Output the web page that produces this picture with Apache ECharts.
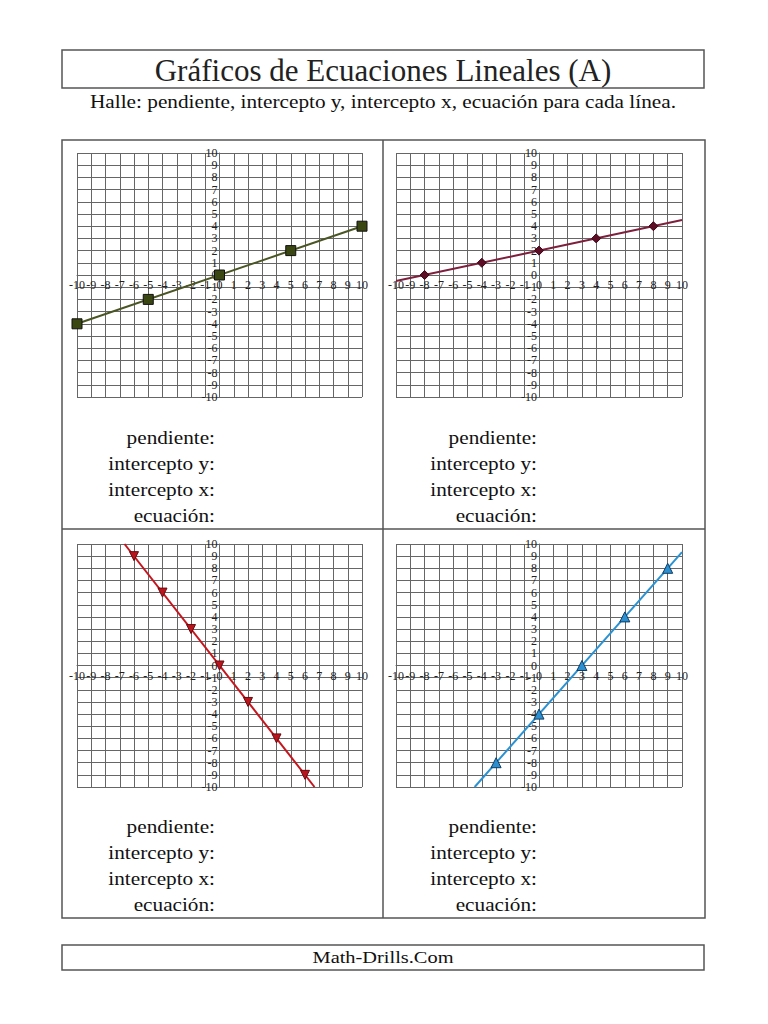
<!DOCTYPE html>
<html>
<head>
<meta charset="utf-8">
<script src="https://cdn.jsdelivr.net/npm/echarts@6/dist/echarts.min.js"></script>
<style>html,body{margin:0;padding:0;background:#fff}#c{width:768px;height:1024px}</style>
</head>
<body>
<div id="c"></div>
<script>
// ---- data ----
const titleText = 'Gráficos de Ecuaciones Lineales (A)';
const subtitleText = 'Halle: pendiente, intercepto y, intercepto x, ecuación para cada línea.';
const footerText = 'Math-Drills.Com';
const questionLabels = ['pendiente:', 'intercepto y:', 'intercepto x:', 'ecuación:'];
const axisMin = -10, axisMax = 10, axisStep = 1;

const line1 = [[-10, -4], [10, 4]];
const points1 = [[-10, -4], [-5, -2], [0, 0], [5, 2], [10, 4]];
const line2 = [[-10, -0.5], [10, 4.5]];
const points2 = [[-8, 0], [-4, 1], [0, 2], [4, 3], [8, 4]];
const line3 = [[-6.667, 10], [6.667, -10]];
const points3 = [[-6, 9], [-4, 6], [-2, 3], [0, 0], [2, -3], [4, -6], [6, -9]];
const line4 = [[-4.5, -10], [10, 9.333]];
const points4 = [[-3, -8], [0, -4], [3, 0], [6, 4], [9, 8]];

const lines = [line1, line2, line3, line4];
const pointSets = [points1, points2, points3, points4];

// ---- styles ----
const panels = [
  {left: 77, top: 153, w: 285, h: 244, lineColor: '#4a5524', fill: '#3a4712', symbol: 'rect', size: 10, rot: 0, border: '#111'},
  {left: 396, top: 153, w: 286, h: 244, lineColor: '#7d1f3d', fill: '#5e0d26', symbol: 'diamond', size: 9, rot: 0, border: '#3a0515'},
  {left: 77, top: 544, w: 285, h: 243, lineColor: '#c4161e', fill: '#b8151c', symbol: 'triangle', size: 9, rot: 180, border: '#6a0a0e'},
  {left: 396, top: 544, w: 286, h: 243, lineColor: '#2a92d2', fill: '#2c8fcf', symbol: 'triangle', size: 10, rot: 0, border: '#0f3e66'}
];
const serif = '"Liberation Serif", "DejaVu Serif", serif';
const gridColor = '#666';

const grids = [], xAxes = [], yAxes = [], series = [];
panels.forEach((p, i) => {
  grids.push({left: p.left, top: p.top, width: p.w, height: p.h});
  const common = {
    type: 'value', min: axisMin, max: axisMax, interval: axisStep,
    gridIndex: i,
    axisLine: {show: true, onZero: false, lineStyle: {color: gridColor, width: 1}},
    axisTick: {show: false},
    splitLine: {show: true, lineStyle: {color: gridColor, width: 1}},
    axisLabel: {fontFamily: serif, fontSize: 12, color: '#222', showMinLabel: true, showMaxLabel: true}
  };
  xAxes.push(Object.assign({}, common, {position: 'bottom', offset: -p.h / 2,
    axisLabel: Object.assign({}, common.axisLabel, {margin: 4})}));
  yAxes.push(Object.assign({}, common, {position: 'left', offset: -p.w / 2,
    axisLabel: Object.assign({}, common.axisLabel, {margin: 2})}));
  series.push({
    type: 'line', xAxisIndex: i, yAxisIndex: i, data: lines[i], showSymbol: false, symbol: 'none',
    lineStyle: {color: p.lineColor, width: 2}, z: 5, silent: true, animation: false
  });
  series.push({
    type: 'scatter', xAxisIndex: i, yAxisIndex: i, data: pointSets[i],
    symbol: p.symbol, symbolSize: p.size, symbolRotate: p.rot,
    itemStyle: {color: p.fill, borderColor: p.border, borderWidth: 1, opacity: 1}, z: 6, animation: false
  });
});

const border = {fill: 'none', stroke: '#555', lineWidth: 1.5};
const graphics = [
  {type: 'rect', shape: {x: 62, y: 50, width: 642, height: 38}, style: border},
  {type: 'text', x: 383, y: 70, scaleX: 0.97, style: {text: titleText, font: '32px ' + serif, fill: '#222', align: 'center', verticalAlign: 'middle'}},
  {type: 'text', x: 383, y: 101, scaleX: 1.12, style: {text: subtitleText, font: '19px ' + serif, fill: '#111', align: 'center', verticalAlign: 'middle'}},
  {type: 'rect', shape: {x: 62, y: 140, width: 643, height: 778}, style: border},
  {type: 'line', shape: {x1: 383, y1: 140, x2: 383, y2: 918}, style: {stroke: '#555', lineWidth: 1.5}},
  {type: 'line', shape: {x1: 62, y1: 529, x2: 705, y2: 529}, style: {stroke: '#555', lineWidth: 1.5}},
  {type: 'rect', shape: {x: 62, y: 945, width: 642, height: 25}, style: border},
  {type: 'text', x: 383, y: 957, scaleX: 1.2, style: {text: footerText, font: '17px ' + serif, fill: '#111', align: 'center', verticalAlign: 'middle'}}
];
const labelAnchors = [[215, 438], [537, 438], [215, 827], [537, 827]];
labelAnchors.forEach(a => {
  questionLabels.forEach((t, k) => {
    graphics.push({type: 'text', x: a[0], y: a[1] + k * 25.7, scaleX: 1.18, style: {text: t, font: '18px ' + serif, fill: '#111', align: 'right', verticalAlign: 'middle'}});
  });
});

const chart = echarts.init(document.getElementById('c'), null, {renderer: 'svg'});
chart.setOption({
  animation: false,
  backgroundColor: '#fff',
  grid: grids,
  xAxis: xAxes,
  yAxis: yAxes,
  series: series,
  graphic: graphics
});
</script>
</body>
</html>
